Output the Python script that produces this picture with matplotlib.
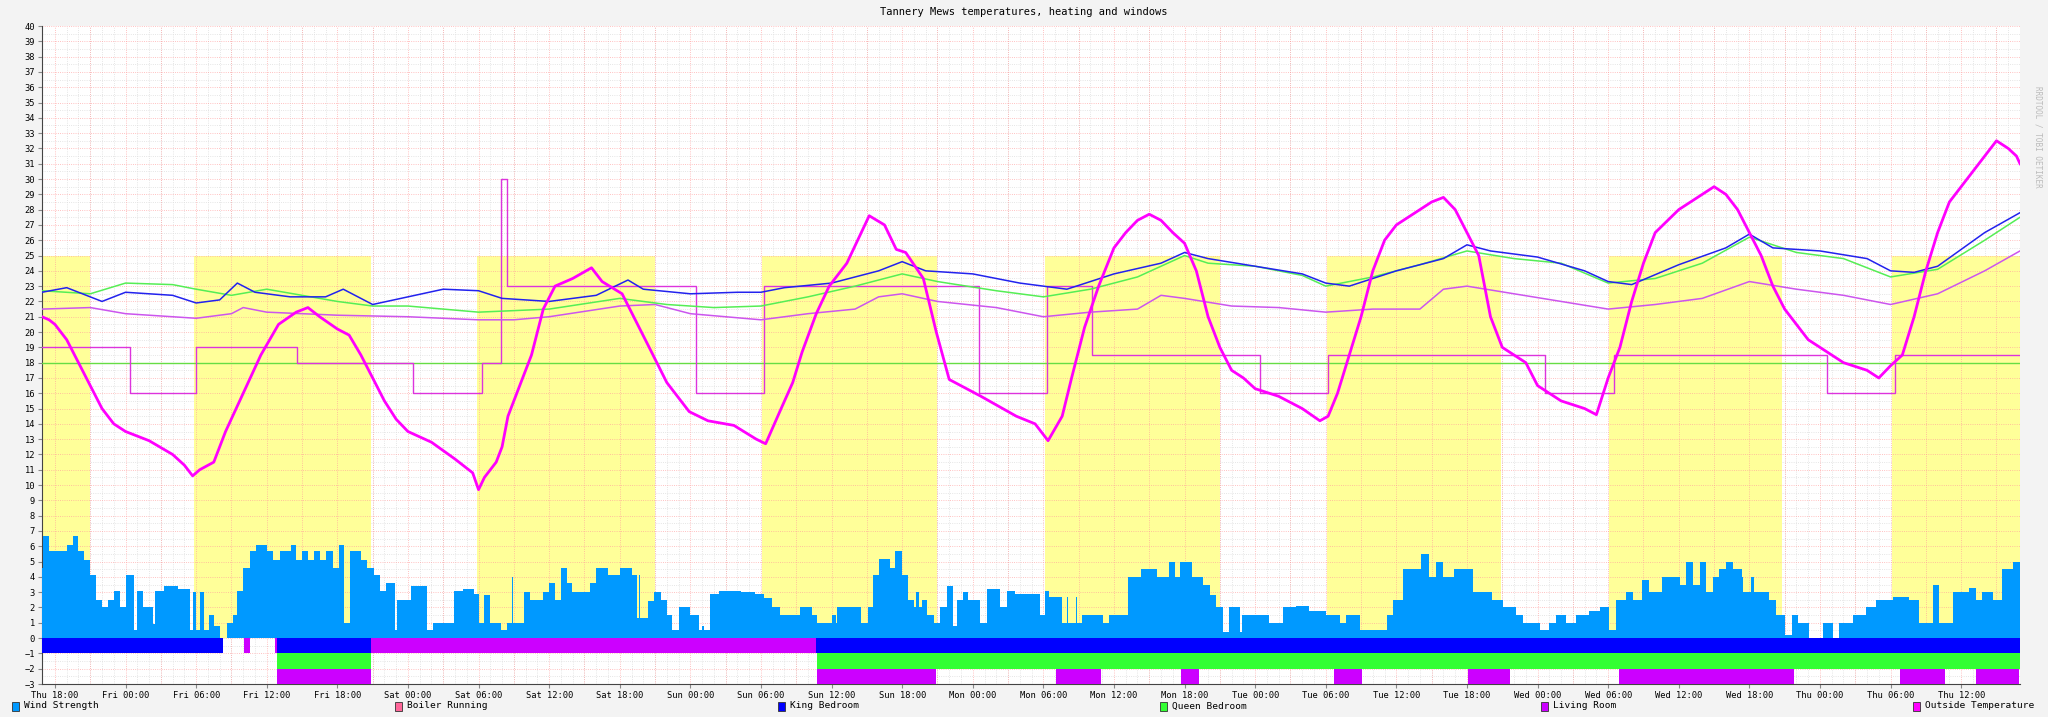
import numpy as np
import matplotlib
matplotlib.use("Agg")
import matplotlib.pyplot as plt

# hours relative to Thu 18:00
T0, T1 = -1.1, 167.0

daylight = [(-1.1, 3.0), (11.8, 26.9), (35.9, 51.0), (60.1, 75.0), (84.1, 99.0),
            (108.1, 122.9), (132.1, 146.8), (156.1, 167.0)]

wind_h = [-1.1, -1.0, -0.5, 1.0, 1.5, 2.0, 2.5, 3.0, 3.5, 4.0, 4.5, 5.0, 5.5, 6.0, 6.7, 7.0, 7.5,
          8.3, 8.5, 9.3, 10.5, 11.5, 11.7, 12.0, 12.3, 12.7, 13.1, 13.5, 14.0, 14.6, 15.1, 15.5,
          16.0, 16.6, 17.1, 18.0, 18.5, 19.1, 20.1, 20.5, 21.0, 21.5, 22.0, 22.5, 23.0, 23.6,
          24.1, 24.6, 25.1, 26.0, 26.5, 27.1, 27.6, 28.1, 28.9, 29.1, 30.3, 31.6, 32.1, 33.9,
          34.7, 35.6, 36.0, 36.5, 37.0, 37.9, 38.4, 38.85, 38.95, 39.9, 40.4, 41.5, 42.0, 42.5,
          43.0, 43.5, 43.9, 45.5, 46.0, 47.0, 48.0, 49.0, 49.5, 49.6, 49.7, 50.4, 50.9, 51.5,
          52.0, 52.4, 53.0, 54.0, 54.7, 55.0, 55.2, 55.7, 56.4, 58.3, 59.5, 60.3, 60.9, 61.6,
          63.3, 64.3, 64.8, 66.0, 66.4, 66.5, 68.5, 69.1, 69.5, 70.0, 71.0, 71.4, 72.0, 72.5,
          73.0, 73.2, 73.4, 73.7, 74.1, 74.7, 75.2, 75.8, 76.3, 76.7, 77.2, 77.6, 78.6, 79.2,
          80.3, 80.9, 81.6, 83.7, 84.1, 84.5, 85.6, 86.0, 86.1, 86.8, 86.9, 87.3, 89.1, 89.6,
          91.2, 92.3, 93.7, 94.7, 95.2, 95.6, 96.6, 97.6, 98.2, 98.7, 99.3, 99.8, 100.7, 100.9,
          103.2, 104.4, 105.5, 106.6, 108.0, 109.2, 109.7, 110.9, 113.2, 113.7, 114.6, 116.1,
          116.8, 117.4, 118.0, 118.9, 120.5, 122.1, 123.1, 124.2, 124.8, 126.2, 127.0, 127.6,
          128.4, 129.3, 130.4, 131.3, 132.1, 132.7, 133.5, 134.1, 134.9, 135.5, 136.6, 138.1,
          138.6, 139.2, 139.8, 140.3, 140.9, 141.4, 142.0, 142.6, 143.4, 143.5, 144.1, 144.4,
          145.7, 146.3, 147.0, 147.6, 148.1, 149.1, 150.3, 151.1, 151.6, 152.8, 153.9, 154.8,
          156.2, 157.6, 158.4, 159.6, 160.1, 161.3, 162.7, 163.3, 163.8, 164.7, 165.5, 166.4, 167.0]
wind_v = [4.6, 6.7, 5.7, 6.1, 6.7, 5.7, 5.1, 4.1, 2.5, 2.0, 2.5, 3.1, 2.0, 4.1, 0.5, 3.1, 2.0,
          0.9, 3.1, 3.4, 3.2, 0.5, 3.0, 0.5, 3.0, 0.5, 1.5, 0.8, 0.0, 1.0, 1.5, 3.1,
          4.6, 5.7, 6.1, 5.7, 5.1, 5.7, 6.1, 5.1, 5.7, 5.1, 5.7, 5.1, 5.7, 4.6,
          6.1, 1.0, 5.7, 5.1, 4.6, 4.1, 3.1, 3.6, 0.5, 2.5, 3.4, 0.5, 1.0, 3.1,
          3.2, 2.9, 1.0, 2.8, 1.0, 0.5, 1.0, 4.0, 1.0, 3.0, 2.5, 3.0, 3.6, 2.5,
          4.6, 3.6, 3.0, 3.6, 4.6, 4.1, 4.6, 4.1, 1.3, 4.1, 1.3, 2.4, 3.0, 2.5,
          1.5, 0.5, 2.0, 1.5, 0.5, 0.8, 0.5, 2.9, 3.1, 3.0, 2.9, 2.6, 2.0, 1.5,
          2.0, 1.5, 1.0, 1.5, 1.0, 2.0, 1.0, 2.0, 4.1, 5.2, 4.6, 5.7, 4.1, 2.5,
          2.0, 3.0, 2.0, 2.5, 1.5, 1.0, 2.0, 3.4, 0.8, 2.5, 3.0, 2.5, 1.0, 3.2,
          2.0, 3.1, 2.9, 1.5, 3.1, 2.7, 1.0, 2.7, 1.0, 2.7, 1.0, 1.5, 1.0, 1.5,
          4.0, 4.5, 4.0, 5.0, 4.0, 5.0, 4.0, 3.5, 2.8, 2.0, 0.4, 2.0, 0.4, 1.5,
          1.0, 2.0, 2.1, 1.8, 1.5, 1.0, 1.5, 0.5, 1.5, 2.5, 4.5, 5.5,
          4.0, 5.0, 4.0, 4.5, 3.0, 2.5, 2.0, 1.5, 1.0, 0.5, 1.0, 1.5,
          1.0, 1.5, 1.8, 2.0, 0.5, 2.5, 3.0, 2.5, 3.8, 3.0, 4.0, 3.5,
          5.0, 3.5, 5.0, 3.0, 4.0, 4.5, 5.0, 4.5, 4.0, 3.0, 4.0, 3.0,
          2.5, 1.5, 0.2, 1.5, 1.0, 0.0, 1.0, 0.0, 1.0, 1.5, 2.0, 2.5,
          2.7, 2.5, 1.0, 3.5, 1.0, 3.0, 3.3, 2.5, 3.0, 2.5, 4.5, 5.0, 5.0]

outside_h = [-1.1, -0.5, 0, 1, 2, 3, 4, 5, 6, 8, 10, 11, 11.7, 12.3, 13.5, 14.5, 16, 17.5, 19, 20.5,
             21.5, 22.5, 24, 25, 26, 27, 28, 29, 30, 32, 34, 35.5, 36, 36.5, 37, 37.5, 38, 38.5,
             39.5, 40.5, 41.5, 42.5, 44, 45.6, 46.5, 48.2, 50.5, 52, 53.9, 55.5, 57.7, 59.6, 60.4,
             61.6, 62.7, 63.5, 64.7, 65.8, 67.3, 69.2, 70.5, 71.5, 72.3, 73.8, 74.9, 76, 78.7,
             81.7, 83.3, 84.4, 85.6, 86.4, 87.5, 88.7, 90, 91, 92, 93, 94, 95, 96, 97, 98, 99,
             100, 101, 102, 104, 106, 107.5, 108.2, 109, 110, 111, 112, 113, 114, 116, 117, 118,
             119, 120, 121, 122, 123, 124, 125, 126, 128, 130, 131, 132, 133, 134, 135, 136, 138,
             140, 141, 142, 143, 144, 145, 146, 147, 148, 149, 150, 152, 154, 155, 156, 157, 158,
             159, 160, 161, 162, 163, 164, 165, 166, 166.7, 167]
outside_v = [21, 20.8, 20.5, 19.5, 18, 16.5, 15, 14, 13.5, 12.9, 12, 11.3, 10.6, 11, 11.5, 13.5,
             16, 18.5, 20.5, 21.3, 21.6, 21, 20.2, 19.8, 18.5, 17, 15.5, 14.3, 13.5, 12.8, 11.7,
             10.8, 9.7, 10.5, 11, 11.5, 12.5, 14.5, 16.5, 18.5, 21.5, 23, 23.5, 24.2, 23.3, 22.5,
             19, 16.7, 14.8, 14.2, 13.9, 13, 12.7, 14.8, 16.7, 18.7, 21.2, 23, 24.5, 27.6, 27,
             25.4, 25.2, 23.5, 20, 16.9, 15.8, 14.5, 14, 12.9, 14.5, 17, 20.3, 23, 25.5, 26.5,
             27.3, 27.7, 27.3, 26.5, 25.8, 24, 21, 19, 17.5, 17, 16.3, 15.8, 15, 14.2, 14.5, 16,
             18.5, 21, 24, 26, 27, 28, 28.5, 28.8, 28, 26.5, 25, 21, 19, 18.5, 18, 16.5, 15.5, 15,
             14.6, 17, 19, 22, 24.5, 26.5, 28, 29, 29.5, 29, 28, 26.5, 25, 23, 21.5, 20.5, 19.5,
             19, 18, 17.5, 17, 17.8, 18.5, 21, 24, 26.5, 28.5, 29.5, 30.5, 31.5, 32.5, 32, 31.5, 31]

king_h = [-1.1, 1, 3, 4, 6, 10, 12, 14, 15.5, 17, 20, 23, 24.5, 26, 27, 30, 33, 36, 38, 42, 46, 48.7,
          50, 54, 58, 60, 62, 66, 70, 72, 74, 78, 82, 86, 90, 94, 96, 98, 102, 106, 108, 110, 114,
          118, 120, 122, 126, 130, 132, 134, 138, 142, 144, 146, 150, 154, 156, 158, 160, 164, 167]
king_v = [22.6, 22.9, 22.3, 22, 22.6, 22.4, 21.9, 22.1, 23.2, 22.6, 22.3, 22.3, 22.8, 22.2, 21.8,
          22.3, 22.8, 22.7, 22.2, 22.0, 22.4, 23.4, 22.8, 22.5, 22.6, 22.6, 22.9, 23.2, 24, 24.6,
          24, 23.8, 23.2, 22.8, 23.8, 24.5, 25.2, 24.8, 24.3, 23.8, 23.2, 23, 24, 24.8, 25.7,
          25.3, 24.9, 24, 23.3, 23.1, 24.4, 25.5, 26.4, 25.5, 25.3, 24.8, 24, 23.9, 24.3, 26.5, 27.8]

queen_h = [-1.1, 3, 6, 10, 12, 15, 18, 21, 24, 27, 30, 36, 42, 48, 52, 56, 60, 64, 68, 72, 75, 80,
           84, 88, 92, 96, 98, 102, 106, 108, 112, 116, 120, 124, 128, 132, 136, 140, 144, 148,
           152, 156, 160, 164, 167]
queen_v = [22.7, 22.5, 23.2, 23.1, 22.8, 22.4, 22.8, 22.4, 22, 21.7, 21.7, 21.3, 21.5, 22.2, 21.8,
           21.6, 21.7, 22.3, 23, 23.8, 23.3, 22.7, 22.3, 22.8, 23.6, 25, 24.5, 24.3, 23.7, 23.0,
           23.6, 24.4, 25.3, 24.8, 24.5, 23.2, 23.5, 24.5, 26.2, 25.2, 24.8, 23.6, 24.1, 26, 27.5]

living_h = [-1.1, 3, 6, 10, 12, 15, 16, 18, 24, 30, 36, 39, 42, 48, 51, 54, 60, 64, 68, 70, 72, 75,
            80, 84, 88, 92, 94, 96, 100, 104, 108, 112, 116, 118, 120, 124, 128, 132, 136, 140,
            144, 148, 152, 156, 160, 164, 167]
living_v = [21.5, 21.6, 21.2, 21, 20.9, 21.2, 21.6, 21.3, 21.1, 21, 20.8, 20.8, 21, 21.7, 21.8,
            21.2, 20.8, 21.2, 21.5, 22.3, 22.5, 22, 21.6, 21, 21.3, 21.5, 22.4, 22.2, 21.7, 21.6,
            21.3, 21.5, 21.5, 22.8, 23, 22.5, 22, 21.5, 21.8, 22.2, 23.3, 22.8, 22.4, 21.8, 22.5,
            24, 25.3]

# heating setpoint (step)
setpoint_h = [-1.1, 6.4, 12.0, 20.6, 30.4, 36.3, 37.9, 38.4, 54.5, 60.3, 78.5, 84.3, 88.1, 102.4,
              108.2, 126.6, 132.5, 150.6, 156.4, 167.0]
setpoint_v = [19, 16, 19, 18, 16, 18, 30, 23, 16, 23, 16, 23, 18.5, 16, 18.5, 16, 18.5, 16, 18.5, 18.5]
queen_setpoint = 18

# window strips (start, end)
king_open = [(-1.1, 14.3), (18.9, 26.9), (64.7, 167.0)]
living_top = [(16.1, 16.6), (18.7, 18.9), (26.9, 64.7)]
queen_open = [(18.9, 26.9), (64.8, 167.0)]
living_open = [(18.9, 26.9), (64.8, 74.9), (85.1, 88.9), (95.7, 97.2), (108.7, 111.1),
               (120.1, 123.7), (132.9, 147.8), (156.8, 160.6), (163.3, 166.9)]

tick_hours = list(range(0, 163, 6))
days = ["Thu", "Fri", "Sat", "Sun", "Mon", "Tue", "Wed", "Thu"]
tick_labels = [f"{days[(18 + t) // 24]} {(18 + t) % 24:02d}:00" for t in tick_hours]

plt.rcParams['font.family'] = ['DejaVu Sans Mono']
fig = plt.figure(figsize=(20.48, 7.17), dpi=100, facecolor='#f3f3f3')
ax = fig.add_axes([42/2048, 33/717, 1978/2048, 658/717])
ax.set_facecolor('white')

for a, b in daylight:
    ax.fill_between([a, b], 0, 25, color='#ffff99', lw=0, zorder=1)

ax.fill_between(wind_h, 0, wind_v, step='post', color='#0099ff', lw=0, zorder=3)


def strip(spans, y0, y1, color):
    for a, b in spans:
        ax.fill_between([a, b], y0, y1, color=color, lw=0, zorder=3)


strip(king_open, -1, 0, '#0000ff')
strip(living_top, -1, 0, '#cc00ff')
strip(queen_open, -2, -1, '#33ff33')
strip(living_open, -3, -2, '#cc00ff')

ax.axhline(queen_setpoint, color='#66dd44', lw=1, zorder=4)
ax.step(setpoint_h, setpoint_v, where='post', color='#dd33dd', lw=1, zorder=4)
ax.plot(living_h, living_v, color='#cc55ee', lw=1.1, zorder=4)
ax.plot(queen_h, queen_v, color='#55ee55', lw=1.1, zorder=4)
ax.plot(king_h, king_v, color='#2222ee', lw=1.1, zorder=4)
ax.plot(outside_h, outside_v, color='#ff00ff', lw=2, zorder=5)

ax.set_xlim(T0, T1)
ax.set_ylim(-3, 40)
ax.set_yticks(range(-3, 41))
ax.set_xticks(tick_hours)
ax.set_xticklabels(tick_labels)
ax.set_xticks(np.arange(0, 167, 1), minor=True)
ax.set_yticks(np.arange(-3, 40, 0.5), minor=True)
ax.tick_params(labelsize=6.3, length=3, color='#888888', pad=2)
ax.tick_params(which='minor', length=0)
ax.grid(which='minor', color='#dddddd', ls=':', lw=0.6, zorder=2)
for t in np.arange(0, 167, 3):
    ax.axvline(t, color='#ff9999', ls=':', lw=0.6, alpha=0.8, zorder=2)
for v in range(-3, 41):
    ax.axhline(v, color='#ff9999', ls=':', lw=0.6, alpha=0.8, zorder=2)
ax.set_axisbelow(True)
for s in ['top', 'right']:
    ax.spines[s].set_visible(False)
for s in ['left', 'bottom']:
    ax.spines[s].set_color('#444444')
    ax.spines[s].set_linewidth(0.8)

fig.text(0.5, 1 - 12/717, "Tannery Mews temperatures, heating and windows",
         ha='center', va='center', fontsize=7.5)
fig.text(2038/2048, 0.88, "RRDTOOL / TOBI OETIKER", rotation=270, ha='center', va='top',
         fontsize=5.5, color='#bbbbbb')

legend_items = [("Wind Strength", '#0099ff', 12), ("Boiler Running", '#ff6699', 395),
                ("King Bedroom", '#0000ff', 778), ("Queen Bedroom", '#33ff33', 1160),
                ("Living Room", '#cc00ff', 1541), ("Outside Temperature", '#ff00ff', 1913)]
for name, col, px in legend_items:
    fig.patches.append(plt.Rectangle((px/2048, 1 - 711/717), 7/2048, 9/717, transform=fig.transFigure,
                                     facecolor=col, edgecolor='#333333', lw=0.6))
    fig.text((px + 12)/2048, 1 - 706/717, name, ha='left', va='center', fontsize=6.8)

fig.savefig("out.png", dpi=100, facecolor=fig.get_facecolor())
